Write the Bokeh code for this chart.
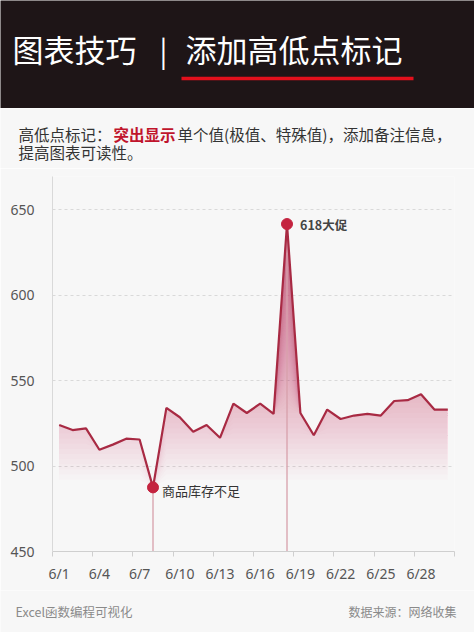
import numpy as np
from bokeh.plotting import figure
from bokeh.layouts import column, row
from bokeh.models import Range1d, FixedTicker
from bokeh.core.properties import value
from bokeh.embed import file_html
from bokeh.resources import INLINE

# ---------------- data ----------------
days = list(range(1, 31))
tick_labels = {d: f"6/{d}" for d in days}
label_days = [1, 4, 7, 10, 13, 16, 19, 22, 25, 28]
boundary_ticks = [0.5 + 3 * k for k in range(11)]
sales = [524, 521, 522, 509.5, 512.5, 516, 515.5, 487.5, 534, 528.5,
         520, 524, 516.5, 536.5, 531, 536.5, 530.5, 641.5, 531, 518,
         533, 527.5, 529.5, 530.5, 529.5, 538, 538.5, 542, 533, 533]
y_ticks = [450, 500, 550, 600, 650]
title_left = "图表技巧"
title_sep = "|"
title_right = "添加高低点标记"
sub_a = "高低点标记："
sub_b = "突出显示"
sub_c = "单个值(极值、特殊值)，添加备注信息，"
sub_d = "提高图表可读性。"
peak_note = "618大促"
low_note = "商品库存不足"
foot_left = "Excel函数编程可视化"
foot_right = "数据来源：网络收集"

W = 474
BL, BR = 52, 20
BG = "#f7f7f7"
CJK = "Noto Sans CJK SC"
LINE_C = "#a82a43"
DOT_C = "#c4233f"

def blank(h, bg):
    f = figure(width=W, height=h, x_range=Range1d(0, W), y_range=Range1d(h, 0),
               output_backend="svg", toolbar_location=None, min_border=0)
    f.axis.visible = False
    f.grid.visible = False
    f.outline_line_color = None
    f.background_fill_color = bg
    f.border_fill_color = bg
    return f

def txt(f, x, y, text, size, color, align="left", bold=False):
    f.text(x=[x], y=[y], text=[text], text_font=value(CJK), text_font_size=size,
           text_color=color, text_align=align, text_baseline="middle",
           text_font_style="bold" if bold else "normal")

# ---------------- header ----------------
hdr = blank(108, "#1e1517")
txt(hdr, 12, 48, title_left, "31px", "white")
txt(hdr, 163, 48, title_sep, "29px", "white", align="center")
txt(hdr, 185, 48, title_right, "31px", "white")
hdr.segment(x0=[181], y0=[78], x1=[413], y1=[78], line_color="#e3101c", line_width=3.5)

# ---------------- subtitle ----------------
sub = blank(60, BG)
fs = "15.5px"
txt(sub, 18, 25, sub_a, fs, "#333333")
txt(sub, 113, 25, sub_b, fs, "#c0142c", bold=True)
txt(sub, 177, 25, sub_c, fs, "#333333")
txt(sub, 18, 43, sub_d, fs, "#333333")

# ---------------- chart ----------------
ymin, ymax = 450, 669.3
p = figure(width=W, height=422, x_range=Range1d(0.5, 30.5), y_range=Range1d(ymin, ymax),
           output_backend="svg", toolbar_location=None,
           min_border_left=BL, min_border_right=BR, min_border_top=8, min_border_bottom=39)
p.background_fill_color = BG
p.border_fill_color = BG
p.outline_line_color = None

x = np.array(days, dtype=float)
v = np.array(sales, dtype=float)

# gradient-like fill from stacked translucent layers
for lvl in np.arange(492, 646, 3.0):
    p.varea(x=x, y1=np.minimum(lvl, v), y2=v, fill_color="#c8324e", fill_alpha=0.02)

i_low = int(np.argmin(v))
i_high = int(np.argmax(v))
p.segment(x0=[x[i_low], x[i_high]], y0=[v[i_low], v[i_high]],
          x1=[x[i_low], x[i_high]], y1=[ymin, ymin], line_color="#d7a0ab", line_width=1.3)

p.line(x, v, line_color=LINE_C, line_width=2.2)
p.scatter([x[i_low], x[i_high]], [v[i_low], v[i_high]], size=11,
          fill_color=DOT_C, line_color=DOT_C)

p.text(x=[x[i_high]], y=[v[i_high]], text=[peak_note], x_offset=13,
       text_font=value(CJK), text_font_size="12.5px", text_color="#444444",
       text_font_style="bold", text_baseline="middle")
p.text(x=[x[i_low]], y=[v[i_low]], text=[low_note], x_offset=9, y_offset=3,
       text_font=value(CJK), text_font_size="13px", text_color="#333333",
       text_baseline="middle")

p.xgrid.visible = False
p.ygrid.ticker = FixedTicker(ticks=y_ticks)
p.ygrid.grid_line_color = "#d9d9d9"
p.ygrid.grid_line_dash = "3 3"

p.xaxis.ticker = FixedTicker(ticks=label_days, minor_ticks=boundary_ticks)
p.xaxis.major_label_overrides = {d: tick_labels[d] for d in label_days}
p.xaxis.major_tick_line_color = None
p.xaxis.major_tick_out = 0
p.xaxis.major_tick_in = 0
p.xaxis.minor_tick_out = 5
p.xaxis.minor_tick_in = 0
p.xaxis.minor_tick_line_color = "#cfcfcf"
p.xaxis.axis_line_color = "#cfcfcf"
p.xaxis.major_label_standoff = 7

p.yaxis.ticker = FixedTicker(ticks=y_ticks)
p.yaxis.major_tick_line_color = None
p.yaxis.minor_tick_line_color = None
p.yaxis.major_tick_out = 0
p.yaxis.axis_line_color = "#d9d9d9"
p.yaxis.major_label_standoff = 18

for ax in (p.xaxis, p.yaxis):
    ax.major_label_text_font = "Noto Sans"
    ax.major_label_text_font_size = "14px"
    ax.major_label_text_color = "#555555"

# ---------------- footer ----------------
ft = blank(42, BG)
txt(ft, 15, 21, foot_left, "12.5px", "#8a8a8a")
txt(ft, 456, 21, foot_right, "12px", "#8a8a8a", align="right")

layout = column(row(hdr), row(sub), row(p), row(ft), spacing=0)
open("out.html", "w").write(file_html(layout, INLINE))
